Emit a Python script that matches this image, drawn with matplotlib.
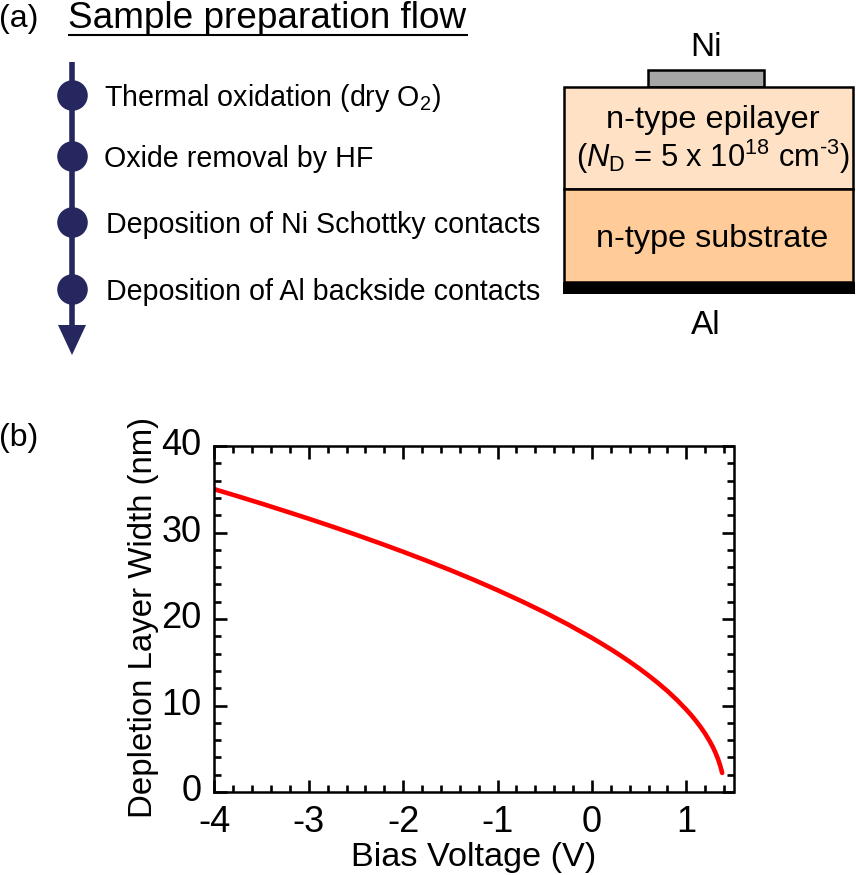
"""Sample preparation flow + device schematic (a), depletion width vs bias (b)."""

import matplotlib

matplotlib.use("Agg")
import matplotlib.pyplot as plt
from matplotlib.patches import Polygon, Rectangle
from matplotlib.ticker import MultipleLocator
from matplotlib.transforms import ScaledTranslation

W_PX, H_PX = 856, 875

plt.rcParams["font.family"] = ["Liberation Sans", "DejaVu Sans"]
plt.rcParams["axes.unicode_minus"] = False
plt.rcParams["mathtext.fontset"] = "custom"
plt.rcParams["mathtext.rm"] = "Liberation Sans"
plt.rcParams["mathtext.it"] = "Liberation Sans:italic"
plt.rcParams["mathtext.default"] = "regular"

# flow steps
STEP_LABELS = [
    "Thermal oxidation (dry O$_2$)",
    "Oxide removal by HF",
    "Deposition of Ni Schottky contacts",
    "Deposition of Al backside contacts",
]
STEP_Y = [95, 156, 222, 289]
STEP_TEXT_X = [104, 104, 106, 106]
NAVY = "#27275F"

# curve
BIAS = [-4.0, -3.75, -3.5, -3.25, -3.0, -2.75, -2.5, -2.25, -2.0, -1.75, -1.5, -1.25,
        -1.0, -0.75, -0.5, -0.25, 0.0, 0.1, 0.2, 0.3, 0.4, 0.5, 0.6, 0.7, 0.8, 0.9,
        1.0, 1.05, 1.1, 1.15, 1.2, 1.25, 1.28, 1.31, 1.34, 1.36, 1.38]
WIDTH = [35.0, 34.18, 33.34, 32.47, 31.59, 30.68, 29.74, 28.77, 27.77, 26.73, 25.65, 24.52,
         23.33, 22.08, 20.76, 19.35, 17.82, 17.17, 16.5, 15.8, 15.06, 14.29, 13.47, 12.6,
         11.67, 10.65, 9.52, 8.91, 8.25, 7.53, 6.74, 5.83, 5.22, 4.52, 3.69, 3.01, 2.2]


def px_rect(x0, y0, x1, y1):
    """Axes rect from pixel box, y counted from the top."""
    return [x0 / W_PX, 1 - y1 / H_PX, (x1 - x0) / W_PX, (y1 - y0) / H_PX]


def main() -> None:
    fig = plt.figure(figsize=(W_PX / 100, H_PX / 100), dpi=100)

    # overlay in pixel coords for the schematic part
    bg = fig.add_axes([0, 0, 1, 1])
    bg.set_xlim(0, W_PX)
    bg.set_ylim(H_PX, 0)
    bg.axis("off")

    bg.text(-1, 19, "(a)", fontsize=23, ha="left", va="center")
    bg.text(-1, 438, "(b)", fontsize=23, ha="left", va="center")
    bg.text(68, 19, "Sample preparation flow", fontsize=26.6, ha="left", va="center")
    bg.plot([68, 468], [35, 35], color="black", lw=1.5, solid_capstyle="butt")

    # flow arrow
    bg.plot([72, 72], [62, 335], color=NAVY, lw=4.0, solid_capstyle="butt")
    bg.add_patch(Polygon([[58, 325], [86, 325], [72, 355]], closed=True, fc=NAVY, ec="none"))
    bg.plot([72] * len(STEP_Y), STEP_Y, "o", color=NAVY, ms=22, mec="none")
    for label, x, y in zip(STEP_LABELS, STEP_TEXT_X, STEP_Y):
        bg.text(x, y + 3, label, fontsize=20.6, ha="left", va="center")

    # device stack
    bg.add_patch(Rectangle((648, 70), 116, 17, fc="#A6A6A6", ec="black", lw=1.8))
    bg.add_patch(Rectangle((564.5, 87), 289, 102, fc="#FFE2C6", ec="black", lw=1.8))
    bg.add_patch(Rectangle((564.5, 189), 289, 93, fc="#FFCC99", ec="black", lw=1.8))
    bg.add_patch(Rectangle((563, 282), 292, 12, fc="black", ec="none"))
    bg.text(706, 47, "Ni", fontsize=24, ha="center", va="center")
    bg.text(706, 325, "Al", fontsize=24, ha="center", va="center")
    bg.text(713, 120, "n-type epilayer", fontsize=23.4, ha="center", va="center")
    bg.text(713, 157, "($\\mathit{N}_{D}$ = 5 x 10$^{18}$ cm$^{\\text{-3}}$)",
            fontsize=22.2, ha="center", va="center")
    bg.text(712, 239, "n-type substrate", fontsize=23.3, ha="center", va="center")

    # depletion width panel
    ax = fig.add_axes(px_rect(214.5, 446, 733.5, 792))
    ax.plot(BIAS, WIDTH, color="#FF0000", lw=3.3, solid_capstyle="round")
    ax.set_xlim(-4, 1.5)
    ax.set_ylim(0, 40)
    ax.xaxis.set_major_locator(MultipleLocator(1))
    ax.xaxis.set_minor_locator(MultipleLocator(0.2))
    ax.yaxis.set_major_locator(MultipleLocator(10))
    ax.yaxis.set_minor_locator(MultipleLocator(2))
    ax.tick_params(which="major", direction="in", top=True, right=True, length=9, width=1.9,
                   labelsize=26)
    ax.tick_params(axis="x", which="major", pad=9)
    ax.tick_params(axis="y", which="major", pad=9.5)
    ax.tick_params(which="minor", direction="in", top=True, right=True, length=5, width=1.9)
    for sp in ax.spines.values():
        sp.set_linewidth(1.8)
    ax.set_xlabel("Bias Voltage (V)", fontsize=24.7, labelpad=2)
    ax.set_ylabel("Depletion Layer Width (nm)", fontsize=23.8, labelpad=1.5, y=0.505)

    # y tick labels sit a little above their ticks in the original
    up = ScaledTranslation(0, 3 / 72, fig.dpi_scale_trans)
    for lab in ax.get_yticklabels():
        lab.set_transform(lab.get_transform() + up)

    fig.savefig("out.png", dpi=100)


if __name__ == "__main__":
    main()
